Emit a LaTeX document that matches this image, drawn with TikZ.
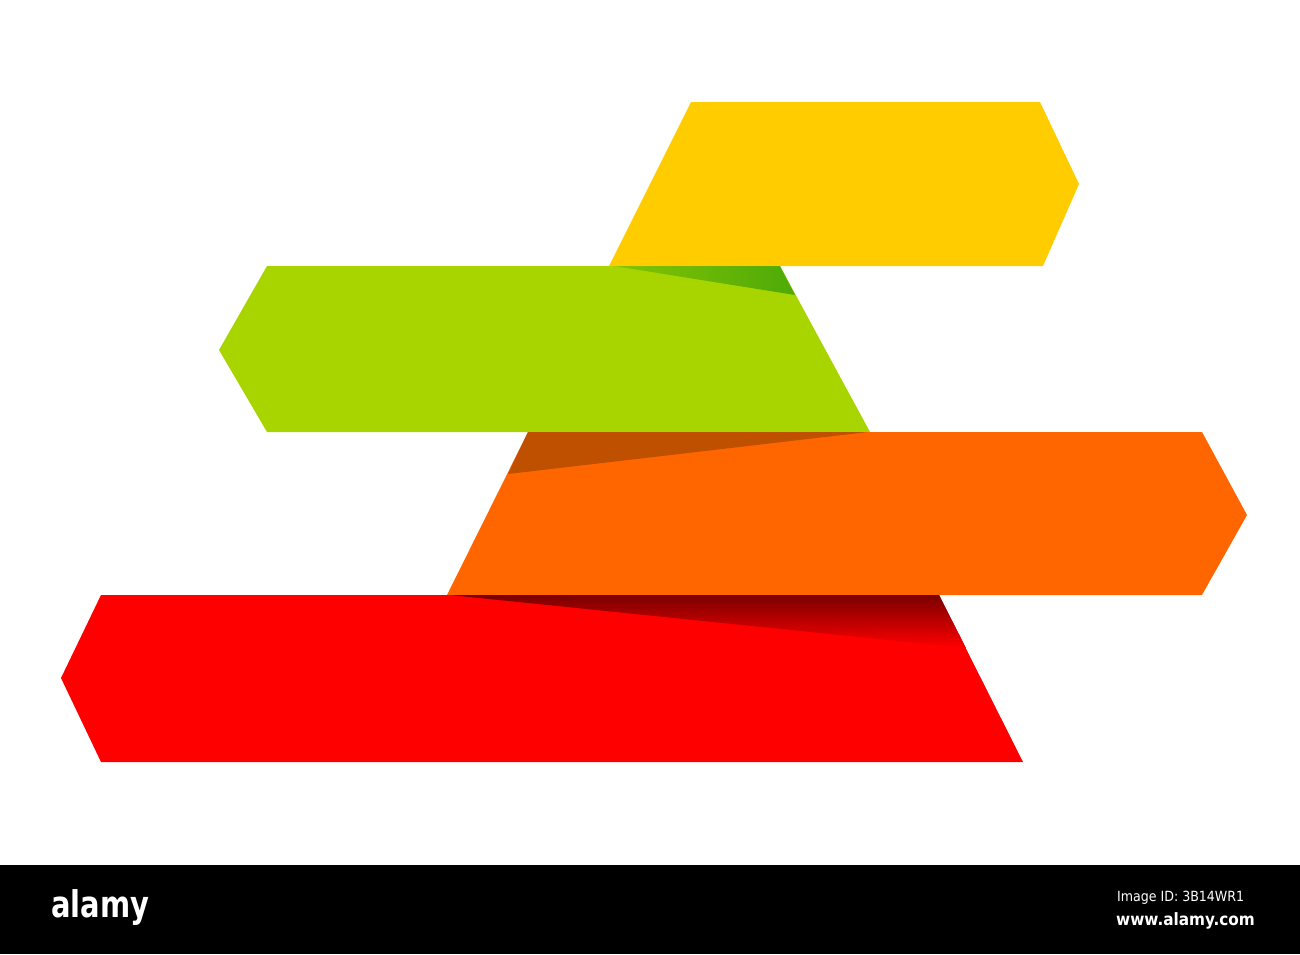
\documentclass[tikz,border=0pt]{standalone}
\usepackage{fontspec}
\setmainfont{DejaVu Sans}
\newfontfamily\condfont{DejaVu Sans Condensed}
\definecolor{cyellow}{HTML}{FFCC00}
\definecolor{cgreen}{HTML}{A8D500}
\definecolor{cgreendk}{HTML}{4EAA08}
\definecolor{corange}{HTML}{FF6600}
\definecolor{corangedk}{HTML}{BF5000}
\definecolor{cred}{HTML}{FF0000}
\definecolor{creddk}{HTML}{7A0000}
\begin{document}
\begin{tikzpicture}[x=1pt,y=-1pt,
  ribbon/.style={fill=#1,draw=none},
  wm/.style={text=white,inner sep=0pt,anchor=base west}]
\useasboundingbox (0,0) rectangle (1300,954);
\fill[white] (0,0) rectangle (1300,954);
% yellow
\fill[ribbon=cyellow] (691,102) -- (1040,102) -- (1079,184) -- (1043,266) -- (609,266) -- cycle;
% green
\fill[ribbon=cgreen] (267,266) -- (780,266) -- (870,432) -- (267,432) -- (219,350) -- cycle;
\shade[left color=cgreen!60!cgreendk,right color=cgreendk] (614,266) -- (780,266) -- (795,295) -- cycle;
% orange
\fill[ribbon=corange] (528,432) -- (1202,432) -- (1247,515) -- (1202,595) -- (447,595) -- cycle;
\fill[corangedk] (528,432) -- (868,432) -- (508,474) -- cycle;
% red
\fill[ribbon=cred] (101,595) -- (939,595) -- (1023,762) -- (101,762) -- (61,678) -- cycle;
\shade[top color=creddk,bottom color=cred] (450,595) -- (939,595) -- (966,648) -- cycle;
% bottom bar
\fill[black] (0,865) rectangle (1300,954);
\node[wm,font=\condfont\bfseries\fontsize{35}{35}\selectfont] (logo) at (51,917) {\scalebox{0.92}[1.05]{alamy}};
\node[wm,font=\condfont\fontsize{14}{14}\selectfont] (imgid) at (1117,901) {Image ID: 3B14WR1};
\node[wm,font=\condfont\bfseries\fontsize{17}{17}\selectfont] (site) at (1116,925) {www.alamy.com};
\end{tikzpicture}
\end{document}
